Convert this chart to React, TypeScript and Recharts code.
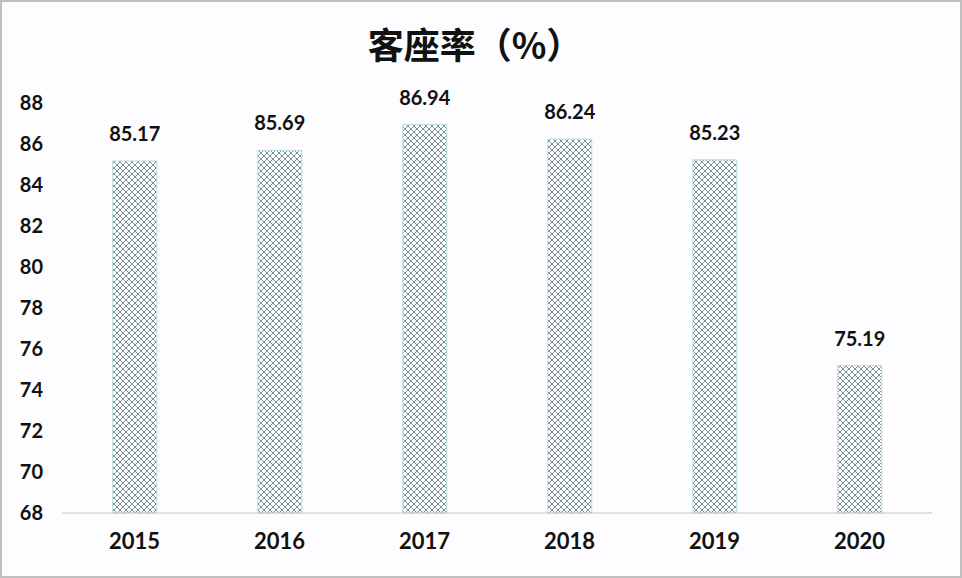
import React from "react";
import { BarChart, Bar, XAxis, YAxis, LabelList } from "recharts";

const years = ["2015", "2016", "2017", "2018", "2019", "2020"];
const loadFactor = [85.17, 85.69, 86.94, 86.24, 85.23, 75.19];
const yTicks = [68, 70, 72, 74, 76, 78, 80, 82, 84, 86, 88];

const data = years.map((year, i) => ({ year, value: loadFactor[i] }));

const font = "Lato, 'Noto Sans', sans-serif";

const App: React.FC = () => {
  return (
    <div
      style={{
        position: "absolute",
        left: 0,
        top: 0,
        width: 962,
        height: 578,
        background: "#fdfcfe",
        border: "2px solid #bfbfbf",
        boxSizing: "border-box",
        fontFamily: font,
      }}
    >
      <svg width={0} height={0} style={{ position: "absolute" }}>
        <defs>
          <pattern id="hatch" width={6} height={6} patternUnits="userSpaceOnUse">
            <rect width={6} height={6} fill="#ffffff" />
            <path d="M0,0 L6,6 M6,0 L0,6" stroke="#6a8685" strokeWidth={0.9} />
          </pattern>
        </defs>
      </svg>
      <div
        style={{
          position: "absolute",
          left: 6,
          top: 19,
          width: 934,
          textAlign: "center",
          fontFamily: "'Noto Sans CJK SC', sans-serif",
          fontWeight: 700,
          fontSize: 36,
          lineHeight: "44px",
          color: "#111",
        }}
      >
        客座率（%）
      </div>
      <div style={{ position: "absolute", left: -2, top: -2 }}>
        <BarChart
          width={962}
          height={578}
          data={data}
          margin={{ top: 103, right: 30, bottom: 35, left: 0 }}
          barCategoryGap="35%"
        >
          <XAxis
            dataKey="year"
            axisLine={{ stroke: "#c6c6c6", strokeWidth: 1 }}
            tickLine={false}
            tickMargin={14}
            tick={{ fontSize: 22, fontWeight: 700, fill: "#111", fontFamily: font }}
          />
          <YAxis
            domain={[68, 88]}
            ticks={yTicks}
            width={62}
            axisLine={false}
            tickLine={false}
            tickMargin={13}
            interval={0}
            tick={{ fontSize: 20, fontWeight: 700, fill: "#111", fontFamily: font }}
          />
          <Bar
            dataKey="value"
            fill="url(#hatch)"
            stroke="#b9dcdc"
            strokeWidth={1}
            isAnimationActive={false}
          >
            <LabelList
              dataKey="value"
              position="top"
              offset={20}
              style={{ fontSize: 20, fontWeight: 700, fill: "#111", fontFamily: font }}
            />
          </Bar>
        </BarChart>
      </div>
    </div>
  );
};

export default App;
